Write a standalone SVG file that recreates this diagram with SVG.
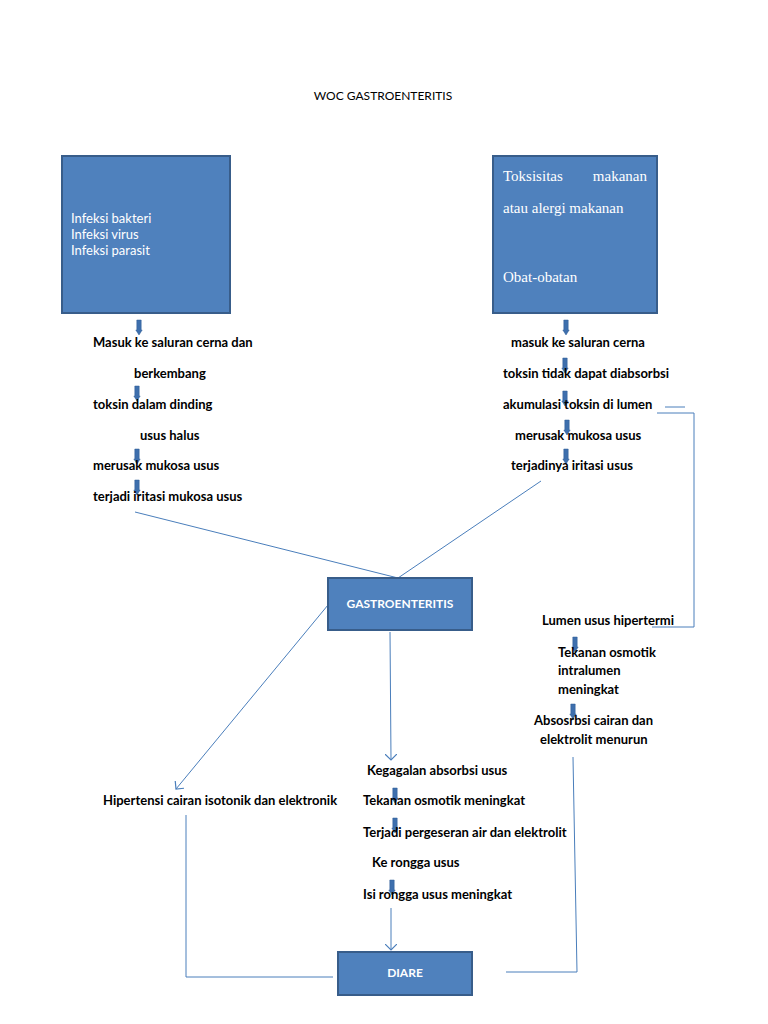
<svg xmlns="http://www.w3.org/2000/svg" width="768" height="1024" viewBox="0 0 768 1024">
<style>
.box{fill:#4F81BD;stroke:#385D8A;stroke-width:2}
.wt{fill:#fff;font-family:Lato,"Liberation Sans",sans-serif;font-size:13px}
.wb{fill:#fff;font-family:Lato,"Liberation Sans",sans-serif;font-size:12px;font-weight:bold}
.st{fill:#fff;font-family:"Liberation Serif",serif;font-size:15px}
.t{fill:#000;font-family:Lato,"Liberation Sans",sans-serif;font-size:13px;font-weight:bold}
.ti{fill:#000;font-family:Lato,"Liberation Sans",sans-serif;font-size:12px}
.c{fill:none;stroke:#4A7EBB;stroke-width:1}
.da{fill:#3E6FAD;stroke:#2F5C94;stroke-width:0.5}
</style>
<defs>
<path id="da" class="da" d="M-2.2,0 h4.4 v10 h1 l-3.2,5 l-3.2,-5 h1 z"/>
<marker id="ov" markerWidth="12" markerHeight="12" refX="6" refY="6" orient="auto" markerUnits="userSpaceOnUse">
<path d="M0,0 L6,6 L0,12" fill="none" stroke="#4A7EBB" stroke-width="1.2"/>
</marker>
</defs>
<rect width="768" height="1024" fill="#fff"/>
<text class="ti" x="383" y="100" text-anchor="middle">WOC GASTROENTERITIS</text>

<g id="connectors">
<line class="c" x1="135" y1="512" x2="398" y2="578"/>
<line class="c" x1="541" y1="481" x2="398" y2="578"/>
<line class="c" x1="665" y1="407" x2="685" y2="407"/>
<polyline class="c" points="657,413 694,413 694,627 652,627"/>
<polyline class="c" points="573,757 577,972 506,972"/>
<line class="c" x1="328" y1="605" x2="176" y2="789" marker-end="url(#ov)"/>
<line class="c" x1="390" y1="632" x2="391" y2="760" marker-end="url(#ov)"/>
<line class="c" x1="391" y1="908" x2="391" y2="950" marker-end="url(#ov)"/>
<polyline class="c" points="186,815 186,977 333,977"/>
<use href="#da" x="139" y="320"/>
<use href="#da" x="137" y="386"/>
<use href="#da" x="137" y="449"/>
<use href="#da" x="137" y="480"/>
<use href="#da" x="566" y="320"/>
<use href="#da" x="565" y="358"/>
<use href="#da" x="565" y="391"/>
<use href="#da" x="567" y="420"/>
<use href="#da" x="566" y="449"/>
<use href="#da" x="575" y="637"/>
<use href="#da" x="573" y="704"/>
<use href="#da" x="395" y="788"/>
<use href="#da" x="395" y="818"/>
<use href="#da" x="392" y="880"/>
</g>

<g id="node-infeksi">
<rect class="box" x="62" y="156" width="168" height="157"/>
<text class="wt" x="71" y="223">Infeksi bakteri</text>
<text class="wt" x="71" y="239">Infeksi virus</text>
<text class="wt" x="71" y="255">Infeksi parasit</text>
</g>

<g id="node-toksisitas">
<rect class="box" x="493" y="156" width="164" height="157"/>
<text class="st" x="503" y="181">Toksisitas</text>
<text class="st" x="647" y="181" text-anchor="end">makanan</text>
<text class="st" x="503" y="213">atau alergi makanan</text>
<text class="st" x="503" y="282">Obat-obatan</text>
</g>

<g id="left-chain">
<text class="t" x="93" y="347">Masuk ke saluran cerna dan</text>
<text class="t" x="134" y="378">berkembang</text>
<text class="t" x="93" y="409">toksin dalam dinding</text>
<text class="t" x="140" y="440">usus halus</text>
<text class="t" x="93" y="470">merusak mukosa usus</text>
<text class="t" x="93" y="501">terjadi iritasi mukosa usus</text>
</g>

<g id="right-chain">
<text class="t" x="511" y="347">masuk ke saluran cerna</text>
<text class="t" x="503" y="378">toksin tidak dapat diabsorbsi</text>
<text class="t" x="503" y="409">akumulasi toksin di lumen</text>
<text class="t" x="515" y="440">merusak mukosa usus</text>
<text class="t" x="511" y="470">terjadinya iritasi usus</text>
</g>

<g id="node-gastro">
<rect class="box" x="328" y="578" width="144" height="52"/>
<text class="wb" x="400" y="608" text-anchor="middle">GASTROENTERITIS</text>
</g>

<g id="lumen-chain">
<text class="t" x="542" y="625">Lumen usus hipertermi</text>
<text class="t" x="558" y="657">Tekanan osmotik</text>
<text class="t" x="558" y="675">intralumen</text>
<text class="t" x="558" y="694">meningkat</text>
<text class="t" x="534" y="725">Absosrbsi cairan dan</text>
<text class="t" x="540" y="744">elektrolit menurun</text>
</g>

<g id="node-hipertensi">
<text class="t" x="103" y="805">Hipertensi cairan isotonik dan elektronik</text>
</g>

<g id="center-chain">
<text class="t" x="367" y="775">Kegagalan absorbsi usus</text>
<text class="t" x="363" y="805">Tekanan osmotik meningkat</text>
<text class="t" x="363" y="837">Terjadi pergeseran air dan elektrolit</text>
<text class="t" x="372" y="867">Ke rongga usus</text>
<text class="t" x="363" y="899">Isi rongga usus meningkat</text>
</g>

<g id="node-diare">
<rect class="box" x="338" y="952" width="134" height="43"/>
<text class="wb" x="405" y="977" text-anchor="middle">DIARE</text>
</g>
</svg>
